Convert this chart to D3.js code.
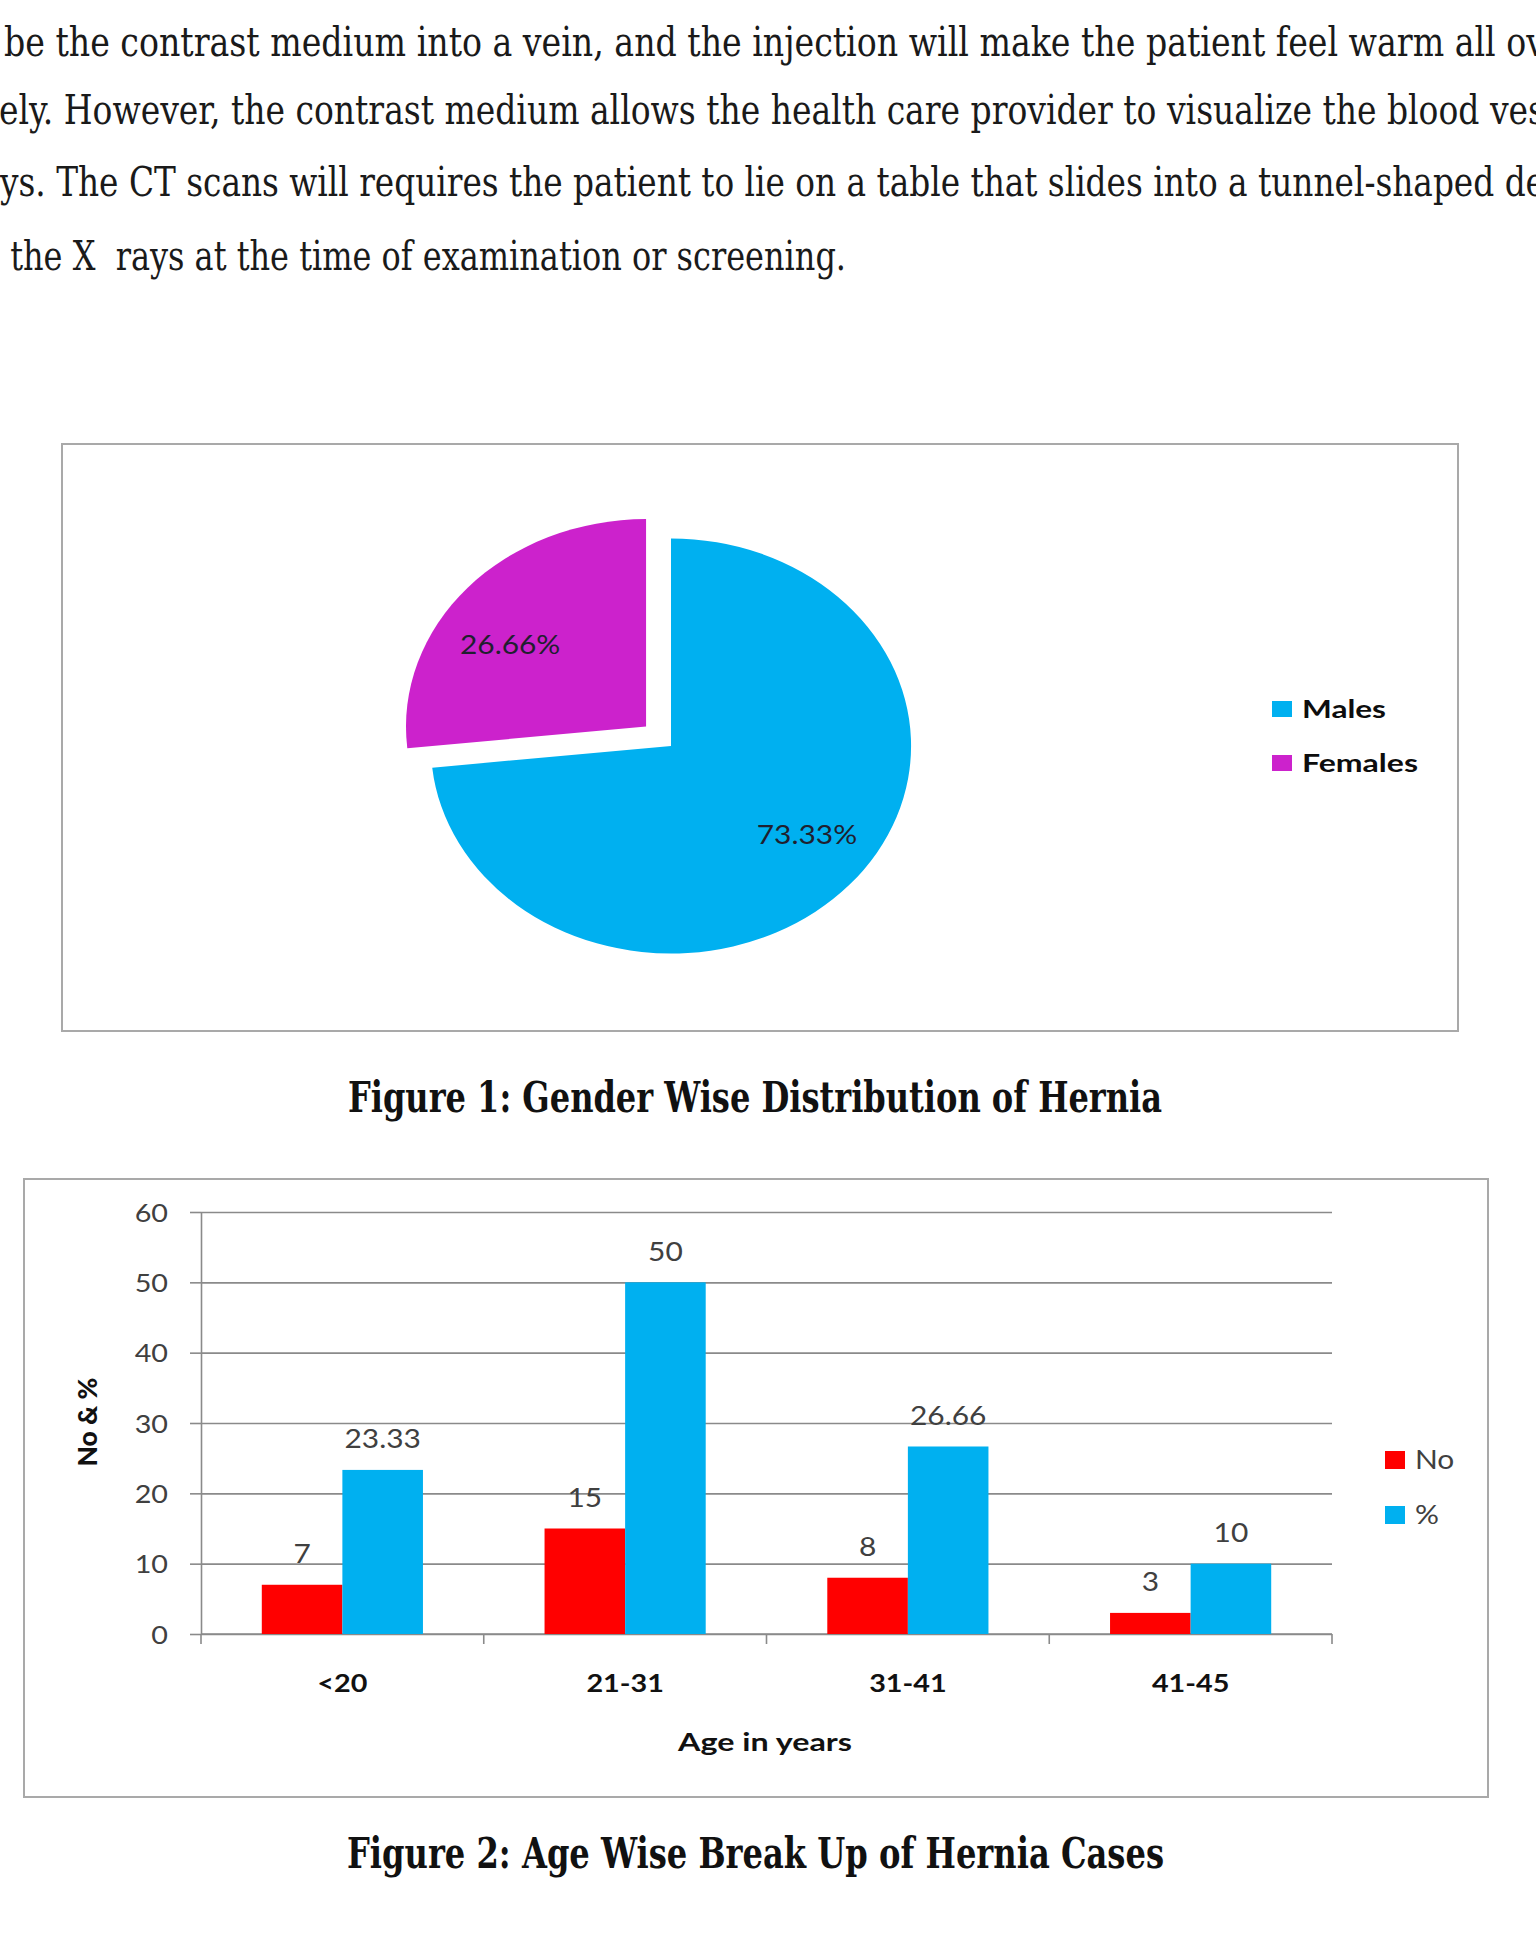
<!DOCTYPE html>
<html>
<head>
<meta charset="utf-8">
<script src="https://cdn.jsdelivr.net/npm/d3@7"></script>
<style>
  html, body { margin: 0; padding: 0; background: #fff; overflow: hidden; }
  svg { display: block; }
</style>
</head>
<body>
<svg id="svg" width="1536" height="1938"></svg>
<script>
// page text
var bodyLines = [
  "be the contrast medium into a vein, and the injection will make the patient feel warm all ov",
  "ely. However, the contrast medium allows the health care provider to visualize the blood ves",
  "ys. The CT scans will requires the patient to lie on a table that slides into a tunnel-shaped de",
  " the X  rays at the time of examination or screening."
];
var captions = [
  "Figure 1: Gender Wise Distribution of Hernia",
  "Figure 2: Age Wise Break Up of Hernia Cases"
];

// figure 1 data
var genders = ["Males", "Females"];
var genderShare = [73.33, 26.66];
var genderLabels = ["73.33%", "26.66%"];

// figure 2 data
var ageGroups = ["<20", "21-31", "31-41", "41-45"];
var seriesNames = ["No", "%"];
var caseCounts = [7, 15, 8, 3];
var casePercents = [23.33, 50, 26.66, 10];
var yTickValues = [0, 10, 20, 30, 40, 50, 60];

var genderColors = ["#00b0f0", "#cc22cc"];
var seriesColors = ["#ff0000", "#00b0f0"];

var svg = d3.select("#svg");
var sx = 1.15; // the chart pictures are stretched sideways
var serif = "'DejaVu Serif Condensed', 'DejaVu Serif', serif";

function stretchedText(sel, x, y, str, size, weight, anchor, color) {
  return sel.append("text")
    .attr("transform", "translate(" + x + "," + y + ") scale(" + sx + ",1)")
    .attr("text-anchor", anchor)
    .attr("dy", "0.36em")
    .style("font-family", "Lato, sans-serif")
    .style("font-size", size + "px")
    .style("font-weight", weight)
    .attr("fill", color || "#404040")
    .text(str);
}

function fittedText(sel, x, y, str, width, size, weight, family, anchor) {
  return sel.append("text")
    .attr("x", x)
    .attr("y", y)
    .attr("text-anchor", anchor || "start")
    .attr("textLength", width)
    .attr("lengthAdjust", "spacingAndGlyphs")
    .style("font-family", family)
    .style("font-size", size + "px")
    .style("font-weight", weight)
    .style("white-space", "pre")
    .attr("fill", "#111")
    .text(str);
}

//body text above the figures
var lineStarts = [4, -1, 0, 0];
var lineEnds = [1545, 1545, 1545, 846];
var lineBase = [56, 124, 196, 270];
bodyLines.forEach(function (t, i) {
  fittedText(svg, lineStarts[i], lineBase[i], t, lineEnds[i] - lineStarts[i],
    41, "normal", serif)
    .attr("fill", "#1a1a1a");
});

// ---------- figure 1: pie ----------
svg.append("rect")
  .attr("x", 62).attr("y", 444).attr("width", 1396).attr("height", 587)
  .attr("fill", "none").attr("stroke", "#a9a9a9").attr("stroke-width", 2);

var radius = 207.5, pieStretch = 1.157, explode = 29;
var pieCx = 671, pieCy = 746;

var pie = d3.pie().sort(null).value(function (d) { return d; });
var arcs = pie(genderShare);
var arc = d3.arc().innerRadius(0).outerRadius(radius);

function shift(d, i) {
  // only the Females slice is pulled out
  return i === 1 ? explode : 0;
}

var pieG = svg.append("g")
  .attr("transform", "translate(" + pieCx + "," + pieCy + ") scale(" + pieStretch + ",1)");

pieG.selectAll("path")
  .data(arcs)
  .enter()
  .append("path")
  .attr("d", arc)
  .attr("fill", function (d, i) { return genderColors[i]; })
  .attr("transform", function (d, i) {
    var m = (d.startAngle + d.endAngle) / 2;
    var s = shift(d, i);
    return "translate(" + Math.sin(m) * s + "," + (-Math.cos(m) * s) + ")";
  });

//slice labels
arcs.forEach(function (d, i) {
  var m = (d.startAngle + d.endAngle) / 2;
  var la = m - 6 * Math.PI / 180;
  var r = radius * 0.7;
  var s = shift(d, i);
  var ux = Math.sin(la) * r + Math.sin(m) * s;
  var uy = -Math.cos(la) * r - Math.cos(m) * s;
  stretchedText(svg, pieCx + ux * pieStretch, pieCy + uy + 3, genderLabels[i], 26, "normal", "middle", "#1f1f2f");
});

//pie legend
var pieLegendY = [709, 763];
var pieLegendW = [84, 116];
genders.forEach(function (g, i) {
  svg.append("rect")
    .attr("x", 1272).attr("y", pieLegendY[i] - 8)
    .attr("width", 20).attr("height", 16)
    .attr("fill", genderColors[i]);
  fittedText(svg, 1302, pieLegendY[i] + 9, g, pieLegendW[i], 25, "bold", "Lato, sans-serif")
    .attr("fill", "#0d0d0d");
});

fittedText(svg, 348, 1112, captions[0], 814, 42, "bold", serif);

// ---------- figure 2: grouped bars ----------
svg.append("rect")
  .attr("x", 24).attr("y", 1179).attr("width", 1464).attr("height", 618)
  .attr("fill", "none").attr("stroke", "#a9a9a9").attr("stroke-width", 2);

var plot = { left: 201, right: 1332, top: 1212, bottom: 1634 };

var x0 = d3.scaleBand()
  .domain(ageGroups)
  .range([plot.left, plot.right])
  .paddingInner(0.43)
  .paddingOuter(0.215);

var x1 = d3.scaleBand()
  .domain(seriesNames)
  .range([0, x0.bandwidth()]);

var yScale = d3.scaleLinear()
  .domain([0, 60])
  .range([plot.bottom, plot.top]);

var gridColor = "#8a8a8a";

//gridlines
var grid = svg.append("g")
  .attr("transform", "translate(" + plot.left + ",0)")
  .call(d3.axisLeft(yScale).tickValues(yTickValues).tickSize(-(plot.right - plot.left)).tickFormat(""));
grid.select(".domain").remove();
grid.selectAll("line").attr("stroke", gridColor).attr("stroke-width", 1.6);

//y axis with marks and numbers
var yAxis = svg.append("g")
  .attr("transform", "translate(" + plot.left + ",0)")
  .call(d3.axisLeft(yScale).tickValues(yTickValues).tickSizeInner(11).tickSizeOuter(0).tickPadding(23));
yAxis.select(".domain").attr("stroke", gridColor).attr("stroke-width", 1.6);
yAxis.selectAll("line").attr("stroke", gridColor).attr("stroke-width", 1.6);
yAxis.selectAll("text")
  .attr("x", -33 / sx)
  .attr("dy", "0.36em")
  .attr("transform", "scale(" + sx + ",1)")
  .style("font-family", "Lato, sans-serif")
  .style("font-size", "25px")
  .attr("fill", "#404040");

//x axis line and boundary marks
svg.append("line")
  .attr("x1", plot.left).attr("x2", plot.right)
  .attr("y1", plot.bottom).attr("y2", plot.bottom)
  .attr("stroke", gridColor).attr("stroke-width", 1.6);

var gap = (x0.step() - x0.bandwidth()) / 2;
var bounds = ageGroups.map(function (d) { return x0(d) - gap; }).concat([plot.right]);
svg.selectAll(".xmark")
  .data(bounds)
  .enter()
  .append("line")
  .attr("x1", function (d) { return d; })
  .attr("x2", function (d) { return d; })
  .attr("y1", plot.bottom)
  .attr("y2", plot.bottom + 10)
  .attr("stroke", gridColor).attr("stroke-width", 1.6);

//bars
var barRows = ageGroups.map(function (g, i) {
  return { group: g, values: [caseCounts[i], casePercents[i]] };
});

var groups = svg.selectAll(".grp")
  .data(barRows)
  .enter()
  .append("g")
  .attr("transform", function (d) { return "translate(" + x0(d.group) + ",0)"; });

groups.selectAll("rect")
  .data(function (d) { return d.values.map(function (v, j) { return { s: seriesNames[j], v: v, j: j }; }); })
  .enter()
  .append("rect")
  .attr("x", function (d) { return x1(d.s); })
  .attr("y", function (d) { return yScale(d.v); })
  .attr("width", x1.bandwidth())
  .attr("height", function (d) { return plot.bottom - yScale(d.v); })
  .attr("fill", function (d) { return seriesColors[d.j]; });

//value labels
barRows.forEach(function (row) {
  row.values.forEach(function (v, j) {
    var cx = x0(row.group) + x1(seriesNames[j]) + x1.bandwidth() / 2;
    stretchedText(svg, cx, yScale(v) - 31, String(v), 26, "normal", "middle");
  });
});

//category labels
ageGroups.forEach(function (g) {
  stretchedText(svg, x0(g) + x0.bandwidth() / 2, 1683, g, 25, "bold", "middle", "#111");
});

//axis titles
fittedText(svg, 765, 1751, "Age in years", 174, 25, "bold", "Lato, sans-serif", "middle");
svg.append("text")
  .attr("transform", "translate(88,1422) rotate(-90)")
  .attr("text-anchor", "middle")
  .attr("dy", "0.36em")
  .attr("textLength", 89)
  .attr("lengthAdjust", "spacingAndGlyphs")
  .style("font-family", "Lato, sans-serif")
  .style("font-size", "26px")
  .style("font-weight", "900")
  .attr("fill", "#111")
  .text("No & %");

//bar legend
var barLegendY = [1460, 1515];
seriesNames.forEach(function (s, i) {
  svg.append("rect")
    .attr("x", 1385).attr("y", barLegendY[i] - 9)
    .attr("width", 20).attr("height", 18)
    .attr("fill", seriesColors[i]);
  stretchedText(svg, 1415, barLegendY[i], s, 26, "normal", "start");
});

fittedText(svg, 347, 1868, captions[1], 817, 42, "bold", serif);
</script>
</body>
</html>
